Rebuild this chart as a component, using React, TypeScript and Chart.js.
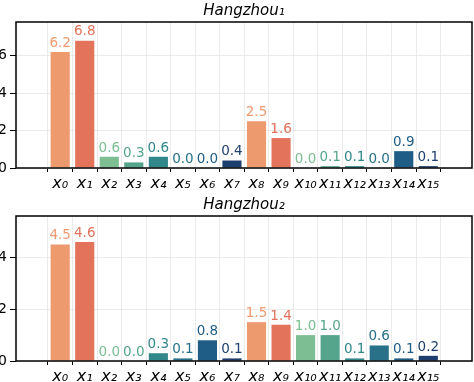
import React, { useEffect, useRef } from "react";
import { Chart, registerables } from "chart.js";

Chart.register(...registerables);

const categories = ["x₀", "x₁", "x₂", "x₃", "x₄", "x₅", "x₆", "x₇", "x₈", "x₉", "x₁₀", "x₁₁", "x₁₂", "x₁₃", "x₁₄", "x₁₅"];
const hangzhou1 = [6.2, 6.8, 0.6, 0.3, 0.6, 0.0, 0.0, 0.4, 2.5, 1.6, 0.0, 0.1, 0.1, 0.0, 0.9, 0.1];
const hangzhou2 = [4.5, 4.6, 0.0, 0.0, 0.3, 0.1, 0.8, 0.1, 1.5, 1.4, 1.0, 1.0, 0.1, 0.6, 0.1, 0.2];
const titles = ["Hangzhou₁", "Hangzhou₂"];
const yTicks = [0, 2, 4, 6];
const palette = ["#EE9A6F", "#E3735B", "#7DBE92", "#55A58D", "#31878A", "#287189", "#1F5D86", "#1E3F6E"];

const FONT = "'DejaVu Sans', sans-serif";

const framePlugin = {
  id: "frame",
  afterDatasetsDraw(chart: any) {
    const { ctx, chartArea } = chart;
    ctx.save();
    ctx.strokeStyle = "#000";
    ctx.lineWidth = 1.5;
    ctx.strokeRect(chartArea.left, chartArea.top, chartArea.right - chartArea.left, chartArea.bottom - chartArea.top);
    ctx.restore();
  },
};

const labelPlugin = {
  id: "valueLabels",
  afterDatasetsDraw(chart: any) {
    const { ctx } = chart;
    const meta = chart.getDatasetMeta(0);
    const data = chart.data.datasets[0].data as any[];
    ctx.save();
    ctx.font = `13.5px ${FONT}`;
    ctx.textAlign = "center";
    ctx.textBaseline = "bottom";
    meta.data.forEach((bar: any, i: number) => {
      ctx.fillStyle = palette[i % palette.length];
      ctx.fillText(data[i].y.toFixed(1), bar.x, bar.y - 2);
    });
    ctx.restore();
  },
};

function BarPanel({ values, title, yMax, titleTop, axisHeight, height, top }: any) {
  const ref = useRef<HTMLCanvasElement>(null);
  useEffect(() => {
    const chart = new Chart(ref.current!, {
      type: "bar",
      data: {
        datasets: [
          {
            data: values.map((v: number, i: number) => ({ x: i, y: v })),
            backgroundColor: categories.map((_, i) => palette[i % palette.length]),
            categoryPercentage: 1,
            barPercentage: 0.78,
          },
        ],
      },
      options: {
        responsive: false,
        animation: false,
        layout: { padding: { left: 0, right: 2, top: 0, bottom: 0 } },
        plugins: {
          legend: { display: false },
          tooltip: { enabled: false },
          title: {
            display: true,
            fullSize: false,
            text: title,
            color: "#000",
            font: { family: FONT, size: 15, style: "italic", weight: "normal" },
            padding: { top: titleTop, bottom: 2 },
          },
        },
        scales: {
          x: {
            type: "linear",
            min: -1.22,
            max: 16.2,
            afterBuildTicks: (s: any) => {
              s.ticks = categories.map((_, i) => ({ value: i }));
            },
            afterFit: (s: any) => {
              s.height = axisHeight;
            },
            ticks: {
              autoSkip: false,
              maxRotation: 0,
              padding: 2,
              color: "#000",
              font: { family: FONT, size: 16, style: "italic" },
              callback: (v: any) => categories[v as number] ?? "",
            },
            grid: { color: "#e6e6e6", lineWidth: 0.8, tickColor: "#000", tickLength: 4, tickWidth: 1 },
            border: { display: false },
          },
          y: {
            min: 0,
            max: yMax,
            afterBuildTicks: (s: any) => {
              s.ticks = yTicks.filter((t) => t <= yMax).map((t) => ({ value: t }));
            },
            afterFit: (s: any) => {
              s.width = 40;
            },
            ticks: {
              padding: 3,
              color: "#000",
              font: { family: FONT, size: 14 },
              callback: (v: any) => String(v),
            },
            grid: { color: "#e6e6e6", lineWidth: 0.8, tickColor: "#000", tickLength: 6, tickWidth: 1 },
            border: { display: false },
          },
        },
      },
      plugins: [framePlugin, labelPlugin],
    });
    return () => chart.destroy();
  }, []);
  return (
    <canvas
      ref={ref}
      width={498}
      height={height}
      style={{ position: "absolute", left: -24, top, width: 498, height }}
    />
  );
}

export default function App() {
  return (
    <div style={{ position: "absolute", left: 0, top: 0, width: 474, height: 382, overflow: "hidden", background: "#fff" }}>
      <BarPanel values={hangzhou1} title={titles[0]} yMax={7.8} titleTop={2} axisHeight={22} height={190} top={0} />
      <BarPanel values={hangzhou2} title={titles[1]} yMax={5.6} titleTop={6} axisHeight={21} height={192} top={190} />
    </div>
  );
}
